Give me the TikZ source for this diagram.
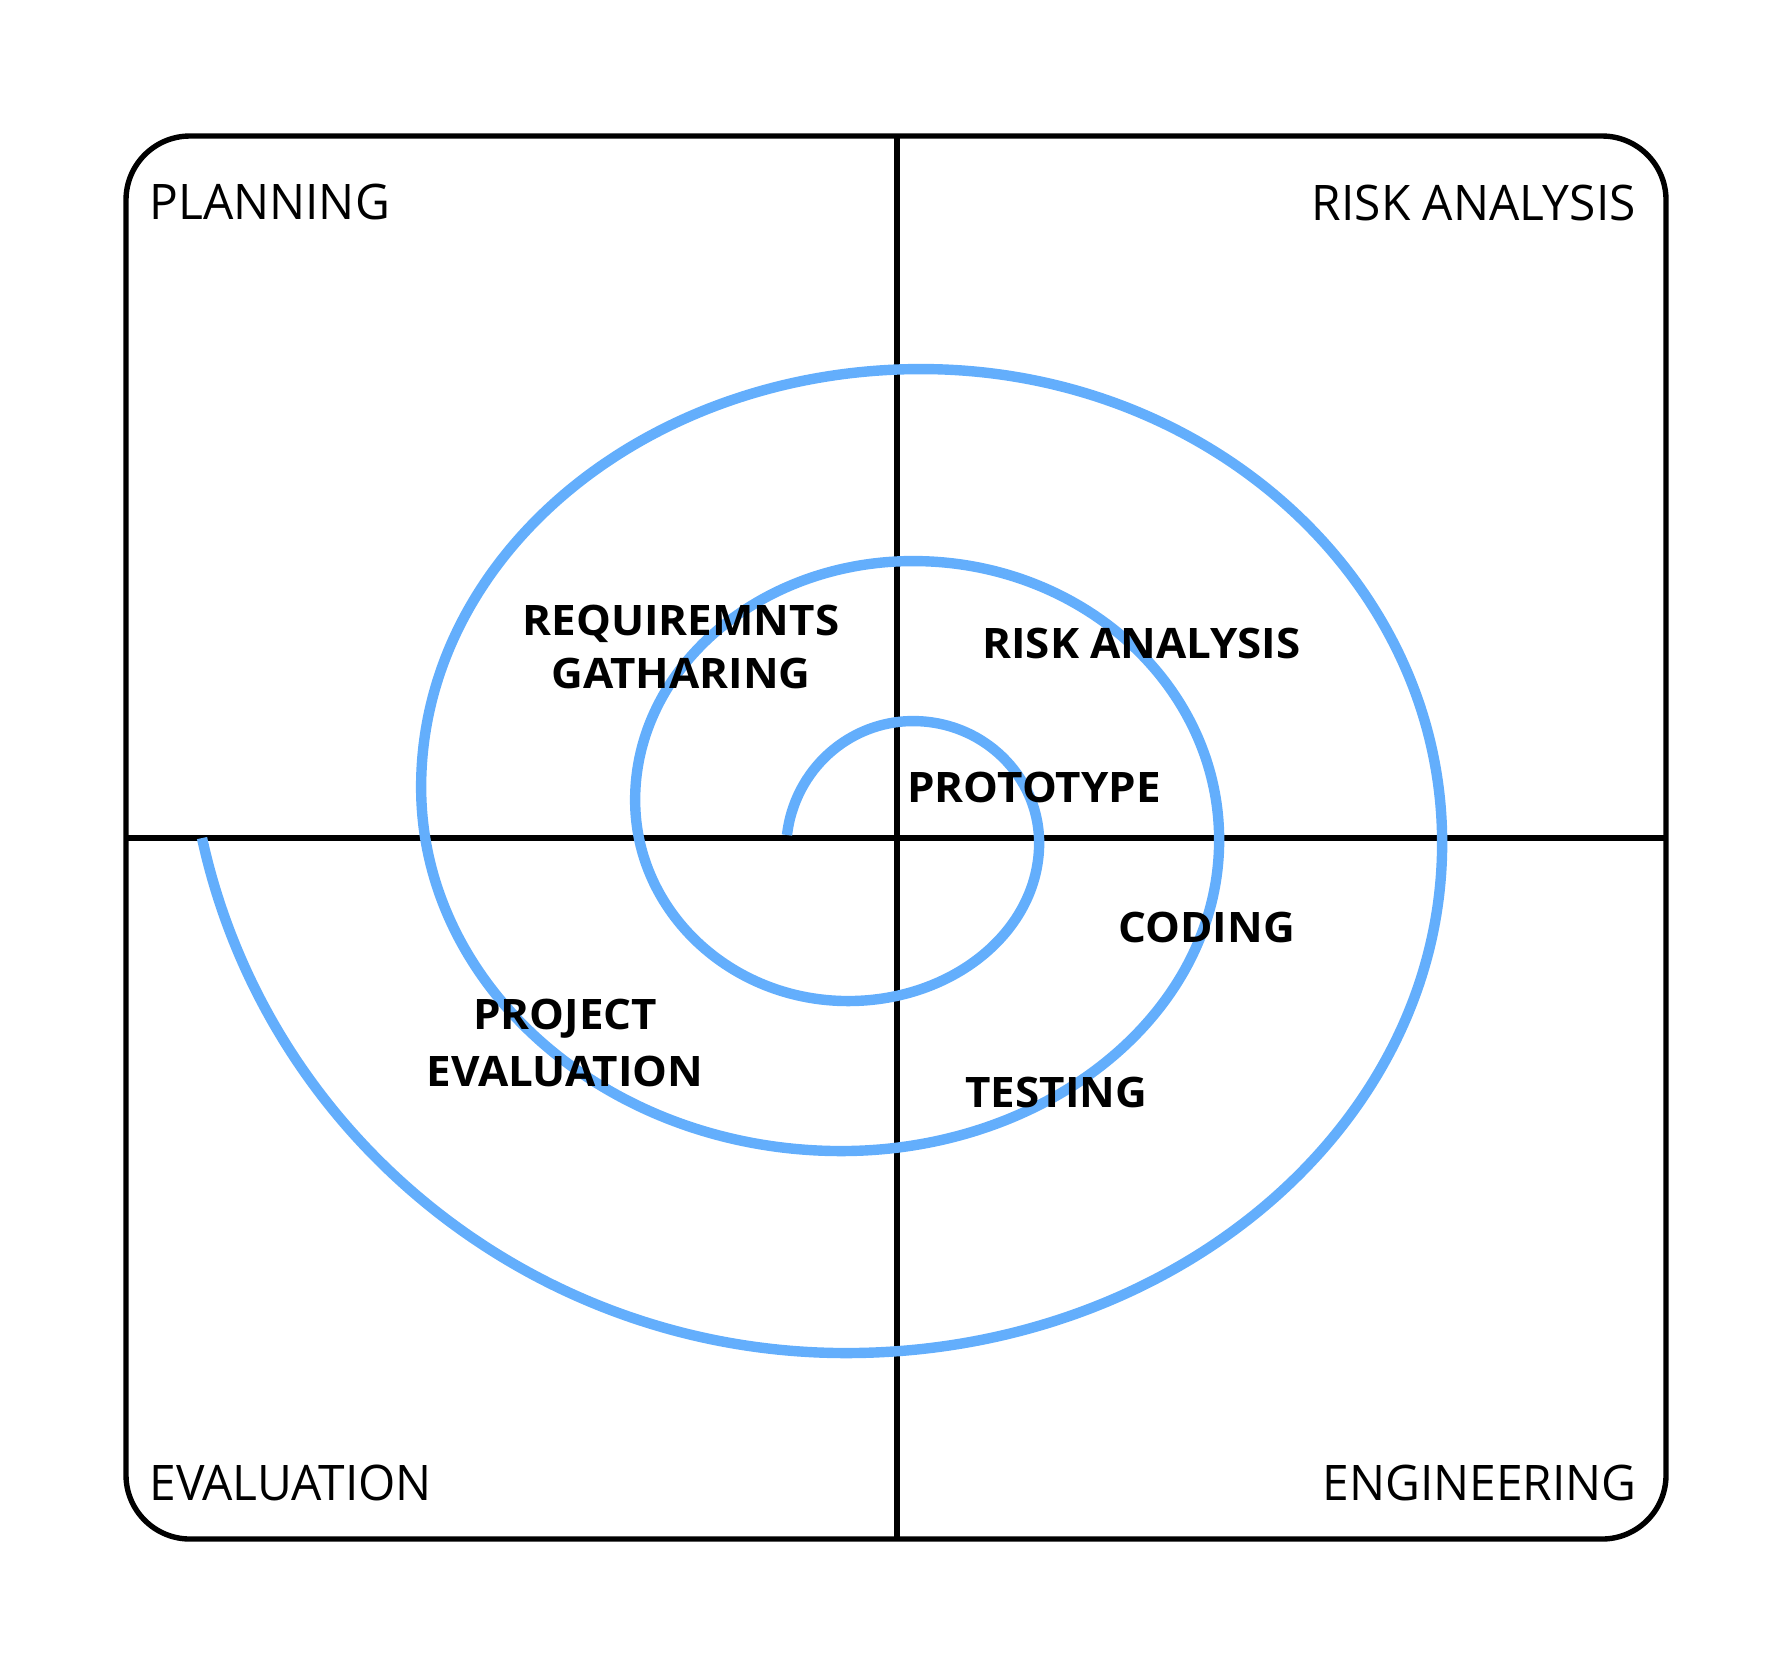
\documentclass[tikz,border=0pt]{standalone}
\usepackage{fontspec}
\setmainfont{Open Sans}
\newfontfamily\phasefont{Open Sans}[FakeStretch=0.977]
\newfontfamily\taskfont{Open Sans}[FakeStretch=1.045]
\definecolor{spiralblue}{RGB}{99,174,252}
\tikzset{phase/.style={inner sep=0pt, font=\phasefont\fontsize{24.5}{29}\selectfont}}
\tikzset{task/.style={inner sep=0pt, align=center, font=\taskfont\fontsize{21}{26.5}\selectfont\bfseries}}
\tikzset{spir/.style={draw=spiralblue, line width=5.2pt}}
\tikzset{axis/.style={draw=black, line width=2.7pt}}

\begin{document}
\begin{tikzpicture}[x=0.5pt, y=-0.5pt]
\useasboundingbox (0,0) rectangle (1780,1666);
% frame and quadrants
\draw[axis, rounded corners=32pt] (126,136) rectangle (1666,1539);
\coordinate (top) at (897,136);
\coordinate (bot) at (897,1539);
\coordinate (west) at (126,838);
\coordinate (east) at (1666,838);
\draw[axis] (top)--(bot) (west)--(east);
% spiral, quarter by quarter
\coordinate (s0) at (787,835);
\draw[spir] (s0) arc[start angle=186.7, end angle=270, x radius=127, y radius=129]
  arc[start angle=-90, end angle=0, x radius=126, y radius=122]
  arc[start angle=0, end angle=90, x radius=191, y radius=158]
  arc[start angle=90, end angle=180, x radius=213, y radius=201]
  arc[start angle=180, end angle=270, x radius=278, y radius=239]
  arc[start angle=-90, end angle=0, x radius=306, y radius=279]
  arc[start angle=0, end angle=90, x radius=378, y radius=311]
  arc[start angle=90, end angle=180, x radius=420, y radius=364]
  arc[start angle=180, end angle=270, x radius=500, y radius=418]
  arc[start angle=-90, end angle=0, x radius=521, y radius=474]
  arc[start angle=0, end angle=90, x radius=596, y radius=510]
  arc[start angle=90, end angle=167.8, x radius=659, y radius=653];
% phases
\node[phase, anchor=base west] (plan) at (149,219) {PLANNING};
\node[phase, anchor=base east] (risk) at (1636,220) {RISK ANALYSIS};
\node[phase, anchor=base west] (eval) at (149,1500) {EVALUATION};
\node[phase, anchor=base east] (engi) at (1637,1500) {ENGINEERING};
% tasks on the spiral
\node[task, anchor=base] (req) at (681,688) {REQUIREMNTS\\GATHARING};
\node[task, anchor=base west] (riskin) at (982,658) {RISK ANALYSIS};
\node[task, anchor=base west] (proto) at (907,802) {PROTOTYPE};
\node[task, anchor=base west] (code) at (1118,942) {CODING};
\node[task, anchor=base west] (test) at (965,1107) {TESTING};
\node[task, anchor=base] (proj) at (565,1086) {PROJECT\\[2pt]EVALUATION};
\end{tikzpicture}
\end{document}
